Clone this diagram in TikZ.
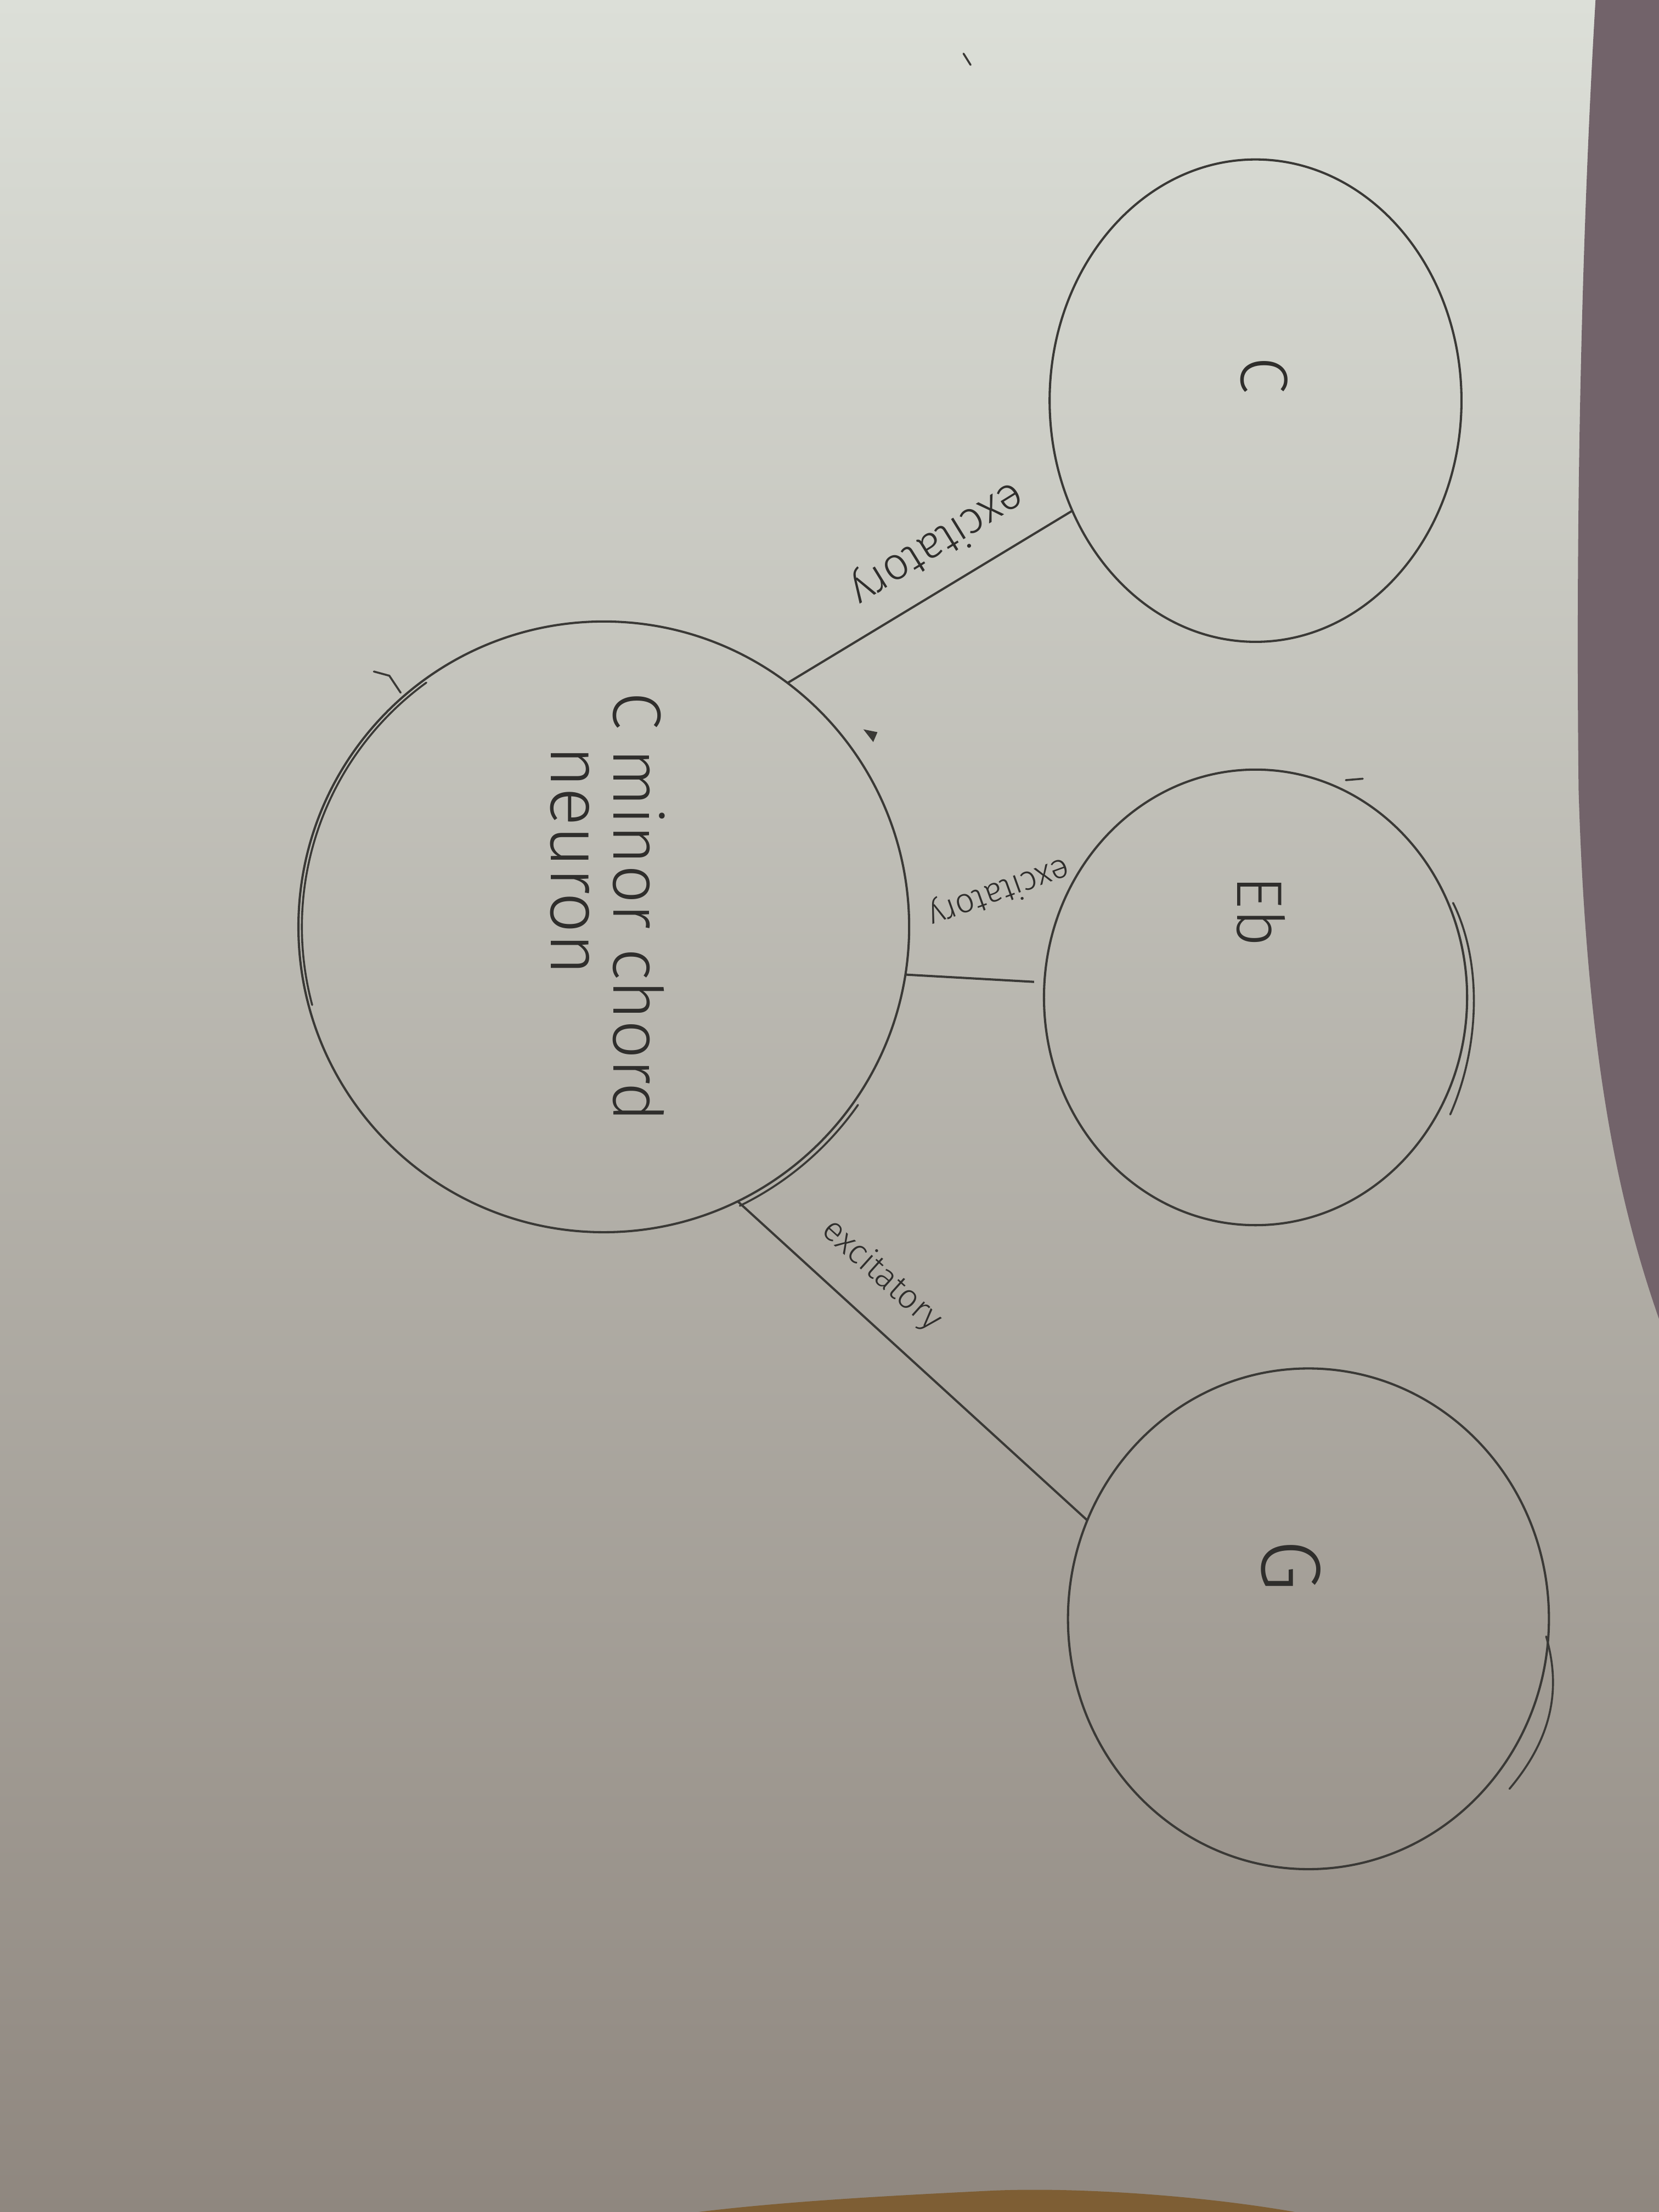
\documentclass[tikz,border=0pt]{standalone}
\usepackage{fontspec}
\setmainfont{Fira Sans}[UprightFont=* Light]
\usetikzlibrary{shapes.geometric}
\definecolor{pencil}{HTML}{3A3936}
\definecolor{ink}{HTML}{2F2E2C}
\definecolor{papertop}{HTML}{DCDFD8}
\definecolor{papermid}{HTML}{C3C0B9}
\definecolor{paperbot}{HTML}{8F877F}
\definecolor{wall}{HTML}{72636A}
\definecolor{wood}{HTML}{7E5E34}
\begin{document}
\begin{tikzpicture}[x=0.02cm, y=-0.02cm,
  cell/.style={ellipse, draw=pencil, line width=0.9pt, inner sep=0pt, outer sep=0pt},
  link/.style={draw=pencil, line width=0.9pt},
  hand/.style={text=ink, inner sep=0pt},
  stroke/.style={draw=pencil, line width=0.8pt, line cap=round}]
\useasboundingbox (0,0) rectangle (1176,1568);
% paper and surroundings
\fill[top color=papertop, middle color=papermid, bottom color=paperbot] (0,0) rectangle (1176,1568);
\fill[wall] (1131,0) -- (1176,0) -- (1176,935) .. controls (1150,860) and (1125,760) .. (1119,560) .. controls (1116,300) and (1125,100) .. (1131,0) -- cycle;
\fill[wood] (495,1568) .. controls (560,1560) and (640,1556) .. (700,1553) .. controls (760,1550) and (850,1556) .. (918,1568) -- cycle;

% neurons
\node[cell, minimum width=8.66cm, minimum height=8.66cm] (N) at (428,657) {};
\node[cell, minimum width=5.84cm, minimum height=6.84cm] (C) at (890,284) {};
\node[cell, minimum width=6.0cm, minimum height=6.46cm] (Eb) at (890,707) {};
\node[cell, minimum width=6.82cm, minimum height=7.1cm] (G) at (927.5,1147.5) {};

% retraced strokes
\draw[stroke] ([shift={(64:220)}]N.center) arc[start angle=64, end angle=35, radius=220];
\draw[stroke] ([shift={(234:214)}]N.center) arc[start angle=234, end angle=165, radius=214];
\draw[stroke] (1030,640) .. controls (1050,680) and (1050,740) .. (1028,790);
\draw[stroke] (1096,1160) .. controls (1106,1195) and (1102,1230) .. (1070,1268);
\draw[stroke] (265,476) -- (276,479) -- (284,491);
\draw[stroke] (954,553) -- (966,552);
\draw[stroke] (683,38) -- (688,46);
\fill[pencil] (612,517) -- (622,519) -- (619,526) -- cycle;

% texts inside
\node[hand, font=\fontsize{27.5}{30}\selectfont, rotate=-90] (nt1) at (453,643) {C minor chord};
\node[hand, font=\fontsize{29}{30}\selectfont, rotate=-90] (nt2) at (404,610) {neuron};
\node[hand, font=\fontsize{27}{30}\selectfont, rotate=-90] (lc) at (896,266) {C};
\node[hand, font=\fontsize{26}{30}\selectfont, rotate=-90] (leb) at (894,646) {Eb};
\node[hand, font=\fontsize{34}{36}\selectfont, rotate=-90] (lg) at (915,1110) {G};

% connectors
\coordinate (ebEnd) at (733,696);
\draw[link] (N.53) -- (C.211);
\draw[link] (N.351) -- (ebEnd);
\draw[link] (N.296) -- (G.156);

% connector labels
\node[hand, font=\fontsize{18.3}{20}\selectfont, rotate=211.7] (x1) at (664,385) {excitatory};
\node[hand, font=\fontsize{13.8}{15}\selectfont, rotate=199.8] (x2) at (708,632) {excitatory};
\node[hand, font=\fontsize{13.8}{15}\selectfont, rotate=-42] (x3) at (625,904) {excitatory};
\end{tikzpicture}
\end{document}
